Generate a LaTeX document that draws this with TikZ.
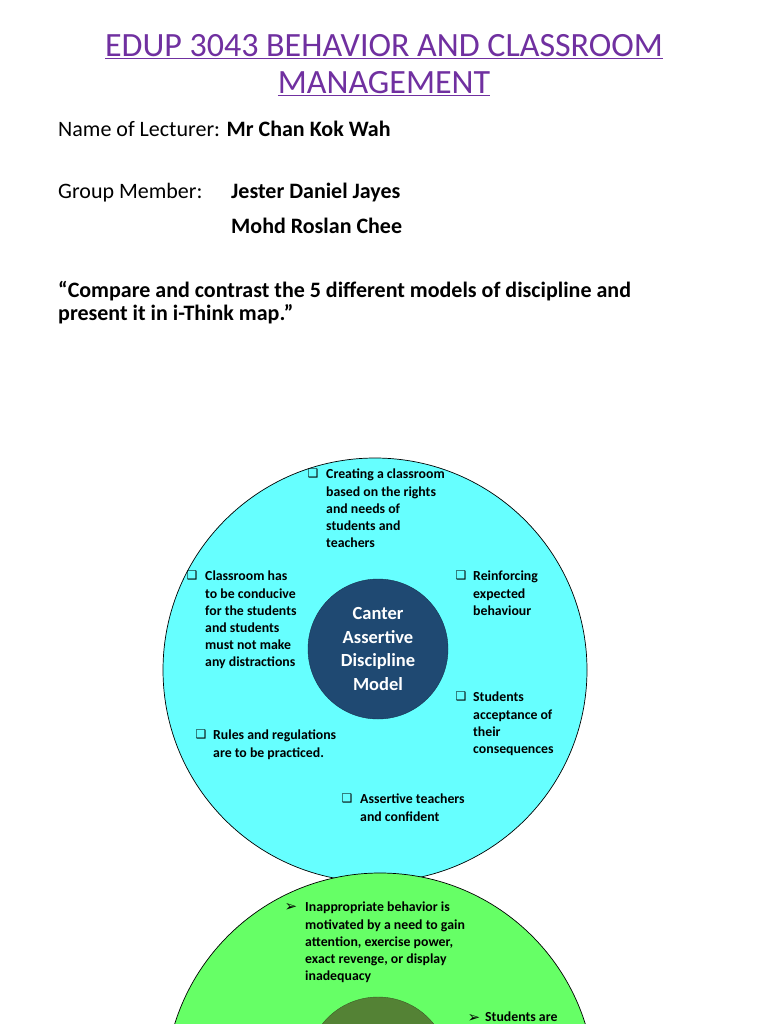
\documentclass[tikz,border=0pt]{standalone}
\usepackage{fontspec}
\setmainfont{Carlito}
\newfontfamily\symf{DejaVu Sans}
\definecolor{ttl}{RGB}{112,48,160}
\definecolor{cyanf}{RGB}{102,255,255}
\definecolor{navy}{RGB}{31,73,114}
\definecolor{greenf}{RGB}{102,255,102}
\definecolor{dgreen}{RGB}{84,130,53}
\begin{document}
\begin{tikzpicture}[x=1pt,y=-1pt,
  ttltext/.style={text=ttl,font=\fontsize{34}{38}\selectfont,anchor=center,inner sep=0},
  body/.style={font=\fontsize{22}{26}\selectfont,anchor=west,inner sep=0},
  ctext/.style={font=\fontsize{13.8}{17.2}\selectfont\bfseries,align=left,anchor=north west,inner sep=0},
  bul/.style={font=\fontsize{12}{12}\symf,anchor=center,inner sep=0},
  arr/.style={font=\fontsize{15}{15}\symf,anchor=center,inner sep=0}]
\useasboundingbox (0,0) rectangle (768,1024);
\fill[white] (0,0) rectangle (768,1024);
% title
\node[ttltext] (t1) at (384,47) {\underline{EDUP 3043 BEHAVIOR AND CLASSROOM}};
\node[ttltext] (t2) at (384,84) {\underline{MANAGEMENT}};
\node[body] (lec) at (58,129) {Name of Lecturer: \textbf{Mr Chan Kok Wah}};
\node[body] (gm) at (58,193) {Group Member:};
\node[body] (n1) at (231,193) {\textbf{Jester Daniel Jayes}};
\node[body] (n2) at (231,226) {\textbf{Mohd Roslan Chee}};
\node[body] (q1) at (58,291) {\textbf{“Compare and contrast the 5 different models of discipline and}};
\node[body] (q2) at (58,314) {\textbf{present it in i-Think map.”}};
% cyan circle
\draw[fill=cyanf,line width=0.7pt] (375,670) circle (212);
\node[circle,fill=navy,draw=navy!70!black,minimum size=140,inner sep=0,text=white,align=center,font=\fontsize{18.5}{23.5}\selectfont\bfseries] (canter) at (378,649) {Canter\\Assertive\\Discipline\\Model};
\node[bul] (b1) at (313,473) {❑};
\node[ctext] (c1) at (326,469) {Creating a classroom\\based on the rights\\and needs of\\students and\\teachers};
\node[bul] (b2) at (192,575) {❑};
\node[ctext] (c2) at (205,571) {Classroom has\\to be conducive\\for the students\\and students\\must not make\\any distractions};
\node[bul] (b3) at (461,575) {❑};
\node[ctext] (c3) at (473,571) {Reinforcing\\expected\\behaviour};
\node[bul] (b4) at (461,696) {❑};
\node[ctext] (c4) at (473,692) {Students\\acceptance of\\their\\consequences};
\node[bul] (b5) at (201,734) {❑};
\node[ctext] (c5) at (213,730) {Rules and regulations\\are to be practiced.};
\node[bul] (b6) at (347,798) {❑};
\node[ctext] (c6) at (360,794) {Assertive teachers\\and confident};
% green circle
\draw[fill=greenf,line width=0.7pt] (380,1088) circle (215);
\fill[dgreen] (378,1068) circle (71);
\draw[dgreen!70!black] (378,1068) circle (71);
\node[arr] (g1b) at (291,907) {➢};
\node[ctext] (g1) at (305,902) {Inappropriate behavior is\\motivated by a need to gain\\attention, exercise power,\\exact revenge, or display\\inadequacy};
\node[arr] (g2b) at (474,1018) {➢};
\node[ctext] (g2) at (485,1012) {Students are};
\end{tikzpicture}
\end{document}
